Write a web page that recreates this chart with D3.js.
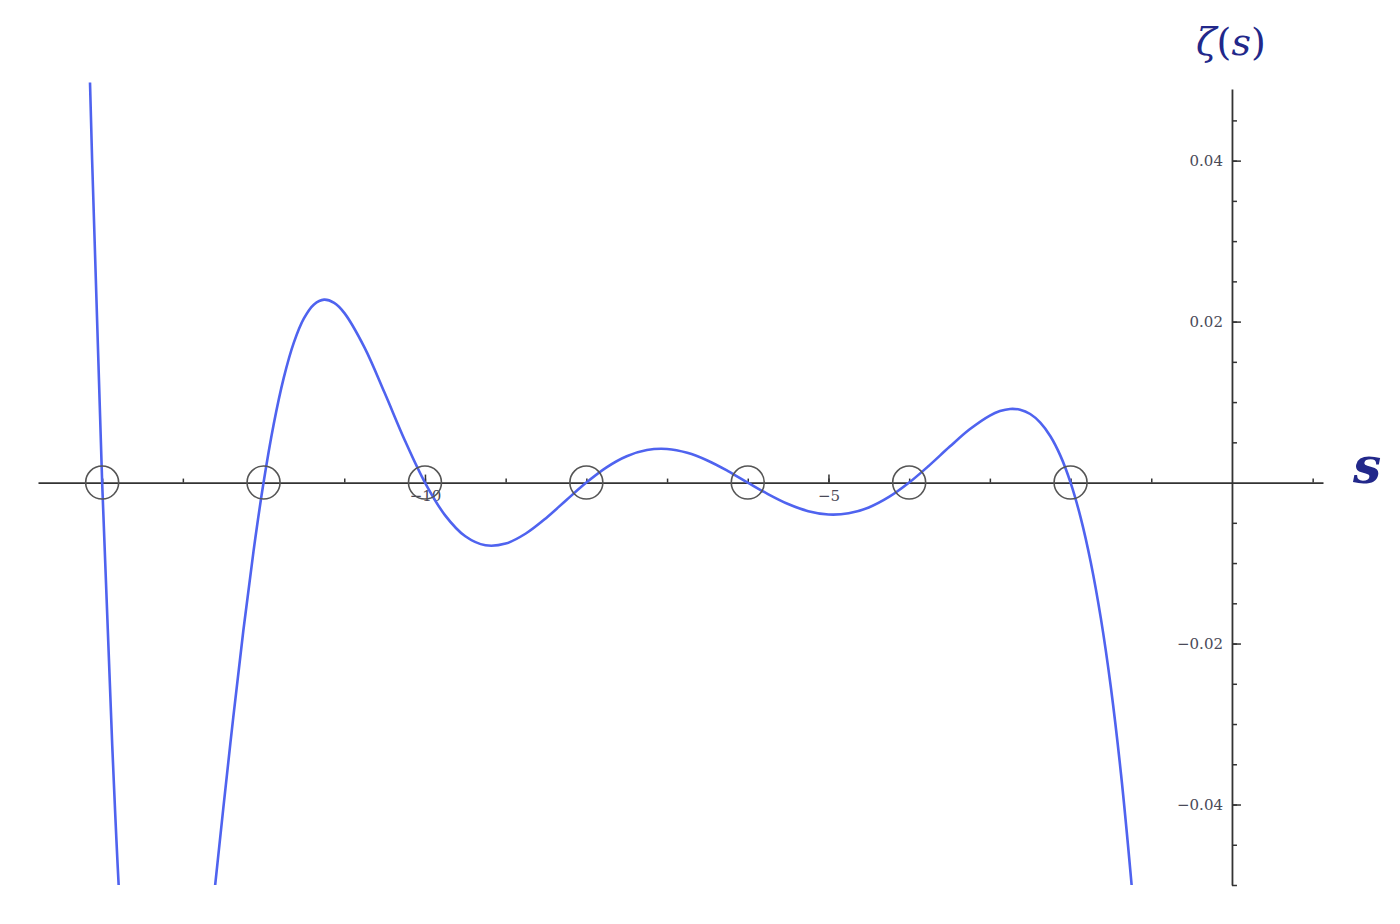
<!DOCTYPE html>
<html>
<head>
<meta charset="utf-8">
<script src="https://cdn.jsdelivr.net/npm/d3@7"></script>
<style>
  html, body { margin: 0; padding: 0; background: #fff; }
  svg { display: block; }
  .serif { font-family: "DejaVu Serif", serif; }
</style>
</head>
<body>
<svg id="chart" width="1400" height="924"></svg>
<script>
// ---- data ----
const sValues = [-14.25, -14.125, -14, -13.875, -13.75, -13.5, -13.25, -13, -12.75, -12.5, -12.375, -12.25, -12.125, -12,
  -11.875, -11.75, -11.625, -11.5, -11.375, -11.25, -11.125, -11, -10.75, -10.5, -10.25, -10,
  -9.75, -9.5, -9.25, -9, -8.75, -8.5, -8.25, -8,
  -7.75, -7.5, -7.25, -7, -6.75, -6.5, -6.25, -6, -5.75, -5.5, -5.25, -5, -4.75, -4.5, -4.25, -4,
  -3.75, -3.5, -3.25, -3, -2.875, -2.75, -2.625, -2.5, -2.375, -2.25, -2.125, -2,
  -1.875, -1.75, -1.625, -1.5, -1.375, -1.25, -1.2];
const zetaValues = [0.08776, 0.04026, 0, -0.03268, -0.05777, -0.08718, -0.09344, -0.08333, -0.06374, -0.04058, -0.02913, -0.01835, -0.00857, 0,
  0.00722, 0.01301, 0.01739, 0.02040, 0.02214, 0.02273, 0.02233, 0.02109, 0.01680, 0.01115, 0.00526, 0,
  -0.00407, -0.00667, -0.00779, -0.00758, -0.00633, -0.00442, -0.00219, 0,
  0.00189, 0.00327, 0.00404, 0.00417, 0.00370, 0.00275, 0.00146, 0, -0.00143, -0.00267, -0.00356, -0.00397, -0.00382, -0.00309, -0.00179, 0,
  0.00214, 0.00444, 0.00662, 0.00833, 0.00888, 0.00915, 0.00905, 0.00852, 0.00745, 0.00576, 0.00332, 0,
  -0.00435, -0.00989, -0.01684, -0.02549, -0.03621, -0.04927, -0.05522];
const zeroS = [-14, -12, -10, -8, -6, -4, -2];
const xMinorTicks = [-14, -13, -12, -11, -10, -9, -8, -7, -6, -5, -4, -3, -2, -1, 1];
const xMajorTicks = [-10, -5];
const xTickLabels = ["\u221210", "\u22125"];
const yMinorTicks = [-0.05, -0.045, -0.04, -0.035, -0.03, -0.025, -0.02, -0.015, -0.01, -0.005,
  0.005, 0.01, 0.015, 0.02, 0.025, 0.03, 0.035, 0.04, 0.045];
const yMajorTicks = [-0.04, -0.02, 0.02, 0.04];
const yTickLabels = ["\u22120.04", "\u22120.02", "0.02", "0.04"];

// ---- scales ----
const x = d3.scaleLinear().domain([-14.795, 1.128]).range([38, 1323]);
const y = d3.scaleLinear().domain([-0.05, 0.0489]).range([885, 89]);

const svg = d3.select("#chart");
const axisColor = "#333";
const navy = "#22288a";
const labelColor = "#4a4a58";

svg.append("defs").append("clipPath").attr("id", "plotclip")
  .append("rect")
  .attr("x", x.range()[0]).attr("width", x.range()[1] - x.range()[0])
  .attr("y", y(0.0497)).attr("height", y(-0.05) - y(0.0497));

// x axis (ticks above the line)
const gx = svg.append("g").attr("transform", `translate(0,${y(0)})`);
gx.call(d3.axisTop(x).tickValues(xMinorTicks).tickSize(4).tickSizeOuter(0).tickFormat(""));
gx.select(".domain").attr("stroke", axisColor).attr("stroke-width", 1.8);
gx.selectAll(".tick line").attr("stroke", axisColor).attr("stroke-width", 1.5);
const gxMaj = svg.append("g").attr("transform", `translate(0,${y(0)})`);
gxMaj.call(d3.axisTop(x).tickValues(xMajorTicks).tickSize(8).tickFormat(""));
gxMaj.select(".domain").remove();
gxMaj.selectAll(".tick line").attr("stroke", axisColor).attr("stroke-width", 1.5);
const gxLab = svg.append("g").attr("transform", `translate(0,${y(0)})`);
gxLab.call(d3.axisBottom(x).tickValues(xMajorTicks).tickSize(0).tickPadding(8)
  .tickFormat((d, i) => xTickLabels[i]));
gxLab.attr("font-family", null).attr("font-size", null);
gxLab.select(".domain").remove();
gxLab.selectAll("text").attr("class", "serif")
  .style("font-size", "15px").attr("fill", labelColor);

// y axis (ticks to the right)
const gy = svg.append("g").attr("transform", `translate(${x(0)},0)`);
gy.call(d3.axisRight(y).tickValues(yMinorTicks).tickSize(5).tickSizeOuter(0).tickFormat(""));
gy.select(".domain").attr("stroke", axisColor).attr("stroke-width", 1.8);
gy.selectAll(".tick line").attr("stroke", axisColor).attr("stroke-width", 1.5);
const gyMaj = svg.append("g").attr("transform", `translate(${x(0)},0)`);
gyMaj.call(d3.axisRight(y).tickValues(yMajorTicks).tickSize(9).tickFormat(""));
gyMaj.select(".domain").remove();
gyMaj.selectAll(".tick line").attr("stroke", axisColor).attr("stroke-width", 1.5);
const gyLab = svg.append("g").attr("transform", `translate(${x(0)},0)`);
gyLab.call(d3.axisLeft(y).tickValues(yMajorTicks).tickSize(0).tickPadding(9)
  .tickFormat((d, i) => yTickLabels[i]));
gyLab.attr("font-family", null).attr("font-size", null);
gyLab.select(".domain").remove();
gyLab.selectAll("text").attr("class", "serif")
  .style("font-size", "15px").attr("fill", labelColor);

// curve
const pts = sValues.map((s, i) => [s, zetaValues[i]]);
const line = d3.line().x(d => x(d[0])).y(d => y(d[1])).curve(d3.curveCatmullRom.alpha(0.5));
svg.append("path")
  .attr("clip-path", "url(#plotclip)")
  .attr("d", line(pts))
  .attr("fill", "none")
  .attr("stroke", "#4f63ef")
  .attr("stroke-width", 2.6);

// circles at the trivial zeros
svg.append("g").selectAll("circle").data(zeroS).join("circle")
  .attr("cx", d => x(d)).attr("cy", y(0)).attr("r", 16.5)
  .attr("fill", "none").attr("stroke", "#555").attr("stroke-width", 1.6);

// axis titles
const zt = svg.append("text")
  .attr("class", "serif")
  .attr("x", 1196).attr("y", 55)
  .style("font-size", "38px").attr("fill", navy);
zt.append("tspan").attr("font-style", "italic").text("\u03B6");
zt.append("tspan").text("(");
zt.append("tspan").attr("font-style", "italic").text("s");
zt.append("tspan").text(")");

svg.append("text")
  .attr("class", "serif")
  .attr("x", 1353).attr("y", 483)
  .style("font-size", "50px").attr("font-style", "italic").attr("font-weight", "bold")
  .attr("fill", navy).text("s");
</script>
</body>
</html>
